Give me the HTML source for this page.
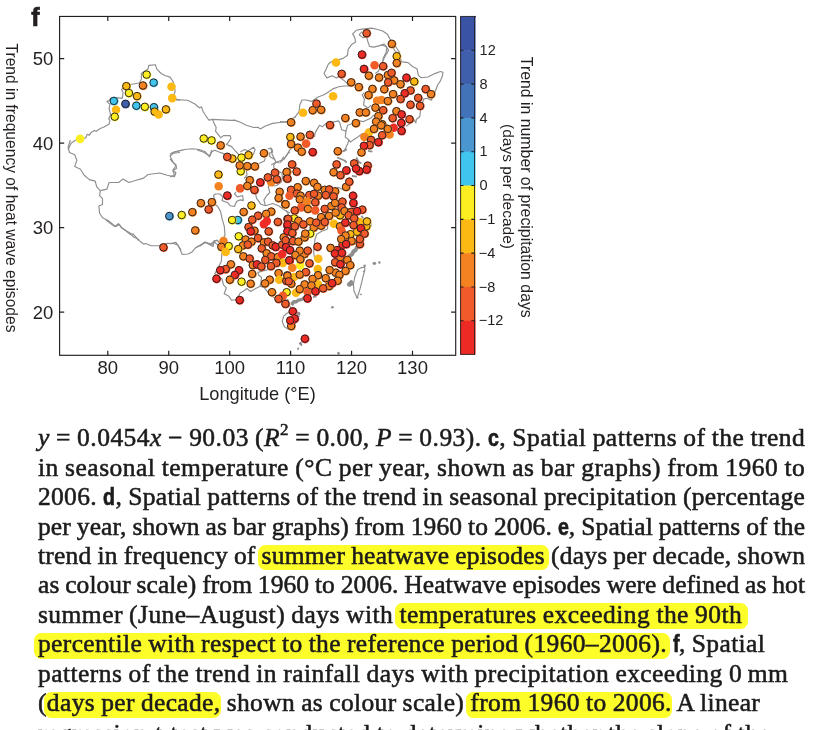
<!DOCTYPE html>
<html><head><meta charset="utf-8"><title>Figure f</title>
<style>
html{background:#fff;}html,body{margin:0;padding:0;}
body{width:818px;height:730px;overflow:hidden;position:relative;z-index:0;font-family:"Liberation Serif",serif;color:#231f20;}
svg{position:absolute;left:0;top:0;}
.at{font-family:"Liberation Sans",sans-serif;font-size:18.5px;fill:#231f20;}
.ct{font-family:"Liberation Sans",sans-serif;font-size:14.5px;fill:#231f20;}
.lb{font-family:"Liberation Sans",sans-serif;font-size:15px;fill:#231f20;}
.ln{-webkit-text-stroke:0.55px #1d1b1c;position:absolute;left:38px;height:30px;line-height:30px;font-size:25.5px;white-space:nowrap;word-spacing:-0.6px;text-align:justify;text-align-last:justify;color:#1d1b1c;}
.ln b{font-family:"Liberation Sans",sans-serif;font-weight:bold;font-size:24.5px;-webkit-text-stroke:0.7px #1d1b1c;display:inline-block;transform:scaleX(0.8);transform-origin:0 50%;margin-right:-2.7px;}
.ln sup{font-size:17px;line-height:0;vertical-align:11.3px;}
mark{background:none;color:inherit;position:relative;}
mark::before{content:'';position:absolute;left:calc(0px - var(--l,4px));right:calc(0px - var(--r,4px));top:3.6px;height:25.8px;background:#fdfd2a;border-radius:7.5px;z-index:-1;}
</style></head><body>
<svg width="818" height="730" viewBox="0 0 818 730">
<text x="31.3" y="26.4" style="font-family:'Liberation Sans',sans-serif;font-weight:bold;font-size:25px;fill:#231f20;stroke:#231f20;stroke-width:0.7px">f</text>
<g fill="none" stroke="#8e8e8e" stroke-width="1.15" stroke-linejoin="round"><path d="M68.1 149.8L71.0 143.2L75.4 140.2L85.7 138.0L87.1 134.4L89.3 135.1L91.5 132.2L94.5 130.4L95.9 131.4L100.3 128.5L104.0 127.0L109.1 124.1L109.9 120.4L108.7 118.9L110.6 114.5L109.1 108.7L109.9 104.3L106.9 101.3L109.1 100.6L110.6 98.4L118.7 97.7L122.3 98.4L123.1 92.5L121.6 89.6L124.5 84.5L130.4 84.5L139.2 83.0L141.4 79.3L141.4 73.5L148.0 69.1L148.8 65.4L155.4 64.7L156.8 69.1L161.2 73.5L165.6 75.7L170.0 77.1L173.0 81.5L175.2 91.1L173.7 95.5L176.6 99.9L180.0 99.9"/><path d="M175.9 99.6L187.6 100.3L194.9 104.0L199.3 107.7L201.5 106.9L203.0 111.3L206.7 117.2L208.9 120.1L212.5 119.4L231.6 120.4L234.5 120.1L240.4 122.3L246.3 125.3L253.6 127.5L258.0 127.2L260.2 128.9L265.4 126.0L272.7 123.4L281.5 122.3L287.4 121.6"/><path d="M212.5 119.4L214.0 123.1L216.2 127.5L215.5 131.1L219.1 135.6L220.6 137.8L223.5 135.6L230.1 135.6L230.9 138.5L227.9 142.9L226.5 144.4L231.6 146.6L235.3 151.0L238.2 153.9L240.4 156.8"/><path d="M170.0 153.9L174.4 151.7L184.7 149.5L192.0 148.8L199.3 149.5L205.2 151.7L209.6 156.8L211.8 151.7L214.7 150.2L218.4 151.7L224.3 153.9"/><path d="M240.4 151.7L244.8 149.5L247.8 151.0L253.6 147.3L255.1 149.5L253.6 153.9L250.7 156.8"/><path d="M267.6 148.8L271.2 148.0L272.0 153.9L274.9 159.8"/><path d="M283.7 159.8L287.4 153.9L290.0 151.7"/><path d="M294.7 117.6L299.1 111.7L299.8 105.1L302.0 100.0L306.4 100.0L311.5 101.4L318.1 97.0L324.0 94.8L328.4 91.9L332.8 88.9L338.7 86.7L344.5 86.0L349.7 86.0L344.5 80.9L338.7 76.5L336.5 77.9L332.1 75.7L326.9 77.9L324.0 73.5L326.2 69.1L328.4 64.0L331.3 61.8L338.7 59.6L343.1 58.4L347.5 55.2L348.2 49.3L351.9 44.2L355.6 42.0L354.8 37.6L352.6 33.9L356.3 30.3L362.2 29.1L371.7 28.1L377.6 29.5L382.7 31.0L387.1 33.9L390.0 39.1L393.7 43.5L397.4 49.3L400.0 53.0"/><path d="M362.2 31.7L359.2 34.7L362.9 37.6L366.6 36.9L368.0 42.0L369.5 46.4L373.9 47.1L382.7 44.9L386.4 47.1L388.6 50.1L384.9 56.7L382.7 61.1L381.2 65.5L378.3 71.3L375.4 73.5"/><path d="M364.4 92.6L362.2 94.8L364.4 99.2L363.6 105.1L368.0 108.0L371.0 105.1"/><path d="M391.9 43.7L394.4 50.3L397.8 53.7L401.9 61.9L408.1 62.6L412.9 66.7L417.0 68.8L418.4 75.6L421.1 77.7L427.9 77.0L434.8 73.6L440.3 71.5L443.0 72.2L442.3 76.3L440.3 81.1L437.5 85.2L435.5 90.7L433.4 96.2L431.4 100.3L427.3 98.2L423.8 98.9L422.5 103.0L420.4 111.2L419.7 116.7L416.3 119.5L415.9 122.9L414.2 120.1L410.1 123.6L406.0 126.3"/><path d="M380.0 45.5L384.1 44.1L386.8 46.8L386.2 52.3L383.4 57.8L382.7 61.9"/><path d="M280.0 121.6L286.6 122.3L291.7 119.4L295.4 116.5"/><path d="M314.5 137.0L315.2 132.6L317.4 128.9L319.6 125.3L322.5 126.7L325.5 123.8L338.7 120.9L340.1 123.8L341.6 129.7L346.0 131.1L347.5 125.3L351.9 123.8L359.2 120.9L363.6 121.6L371.0 117.9L373.9 115.0"/><path d="M346.0 131.1L345.3 137.0L348.9 139.9L350.4 142.1L353.3 139.9L357.8 137.0L362.9 133.3"/><path d="M348.9 139.9L347.5 144.3L344.5 150.2L342.3 151.7"/><path d="M280.0 162.7L283.7 159.0L287.3 154.6L289.5 150.2L291.7 148.0"/><path d="M337.2 186.9L340.1 188.3L343.1 189.8"/><path d="M285.9 210.4L288.8 214.8"/><path d="M170.0 155.9L174.4 152.2L183.2 150.0"/><path d="M170.0 158.8L172.2 161.7L175.9 164.7L176.6 168.3L172.9 170.5L174.4 174.9L170.0 177.1"/><path d="M197.1 150.0L203.7 152.2L209.6 155.9L211.8 150.0"/><path d="M213.3 195.5L215.5 194.0L219.9 194.0L222.8 196.9L222.1 200.6L227.9 202.8L230.1 205.7L234.5 206.5L236.7 201.3L240.4 199.9L243.3 200.6L242.6 195.5L237.5 196.9L234.5 194.0L236.0 191.8"/><path d="M213.3 195.5L214.7 199.1L214.0 203.5L217.7 206.5L220.6 211.6L222.1 218.9L224.3 226.3L225.0 235.1L222.8 239.5"/><path d="M246.3 170.5L247.0 174.9L244.1 178.6"/><path d="M255.1 191.8L256.6 198.4L261.0 204.3L265.4 205.7L272.7 203.5L278.6 205.7L284.4 210.1L290.0 213.1"/><path d="M271.2 164.7L275.6 162.5L281.5 160.3L283.7 156.6"/><path d="M265.4 205.7L263.9 199.9L266.8 195.5L269.8 192.5L268.3 186.7L271.2 183.7"/><path d="M170.0 243.9L175.9 242.4L181.0 249.8"/><path d="M195.7 247.6L205.2 242.4L210.3 243.9L214.0 241.7L218.4 245.4"/><path d="M70.3 140.0L68.1 147.3L69.5 152.5L74.7 154.7L76.9 160.5L74.7 166.4L80.5 169.3L84.2 175.2L89.3 179.6L95.2 181.1L96.7 186.9L100.3 190.6"/><path d="M100.3 190.6L106.9 189.1L109.1 182.5L118.7 182.5L123.1 178.9L128.9 182.5L136.3 180.3L143.6 178.1L148.0 174.5L159.8 173.0L167.1 175.2L174.4 176.7L175.9 173.0L173.0 170.1L175.9 165.7L173.0 162.0L170.0 156.1L173.0 153.2L180.0 152.5"/><path d="M100.3 190.6L99.6 195.7L102.5 198.7L102.5 204.5L98.9 206.0L99.6 213.3L102.5 217.8L108.4 220.7L115.7 226.6L119.4 224.4L121.6 228.0L130.4 233.2L133.3 236.8L139.2 239.8"/><path d="M105.9 220.0L114.7 226.6L118.3 223.7L121.3 227.3L130.8 234.7L133.0 233.9L138.9 240.5L144.0 244.2L145.5 243.5L151.3 245.7L158.7 245.7L167.5 243.2L173.3 243.5L177.8 244.9L180.0 249.3L182.2 254.5L188.0 254.0L191.7 252.3L195.4 247.9L201.2 244.9L204.9 242.0L209.3 244.2L213.0 246.4L214.4 241.3L217.4 240.5L220.0 243.5"/><path d="M200.0 246.0L205.1 242.3L211.7 245.3L213.9 240.9L217.6 240.1"/><path d="M222.0 252.6L221.3 261.4L217.6 268.7L214.7 273.9L222.0 279.0L223.5 284.9L226.4 287.8L224.2 293.7L228.6 295.9L231.5 300.3L236.7 299.5L240.3 292.9L244.0 290.7L246.9 288.5L250.6 291.5L255.7 288.5L260.1 286.3L264.5 287.8L268.9 293.7L274.8 298.1L279.2 301.0L288.0 299.5"/><path d="M260.1 286.3L260.9 281.9L261.6 277.5L258.7 275.3L257.9 272.4L263.1 270.9L268.9 269.5"/><path d="M283.6 316.4L282.2 321.6L284.4 326.7L288.0 328.9L293.9 326.0L297.6 320.1L299.8 313.5L296.8 312.0L291.0 311.3L286.6 313.5L283.6 316.4"/><path d="M288.0 299.5L289.5 305.4L291.0 308.3"/><path d="M314.3 245.2L315.0 239.1L316.8 234.2L321.7 231.2L327.2 229.3L327.8 225.7"/><path d="M314.3 245.2L313.7 251.3L314.3 257.5"/><path d="M370.6 222.0L371.2 226.3"/><path d="M364.7 267.2L361.5 267.6L357.8 269.6L356.0 273.5L354.7 277.5L353.5 283.8L353.9 290.7L355.5 294.5L357.0 297.6L358.6 293.5L359.8 289.7L361.8 281.9L363.7 274.0L364.9 270.0L364.7 267.2"/><path d="M269.7 148.8L272.1 149.3L272.6 152.2L269.7 152.7L269.7 156.6L274.6 159.6L276.0 162.0L279.4 163.0"/><path d="M276.0 162.0L273.6 165.4L274.1 168.4L278.5 171.3L281.9 173.3L282.4 177.2L281.4 182.1L276.5 185.5L272.6 186.0"/><path d="M258.9 163.5L264.3 161.0L265.3 158.1"/><path stroke-width="1.8" d="M343.1 151.4L345.3 150.2L346.7 149.0"/><path stroke-width="1.8" d="M337.2 157.5L340.9 159.0L344.5 160.5L346.7 162.7"/><path stroke-width="1.8" d="M356.3 157.5L358.5 161.9L361.4 163.4"/><path stroke-width="1.8" d="M351.9 175.9L357.0 176.6"/><path stroke-width="1.8" d="M368.0 150.9L372.4 151.7"/><path stroke-width="2.6" d="M291.0 303.9L293.9 301.3L296.8 301.3L300.5 299.3L302.7 299.0L304.4 296.6"/><path stroke-width="1.8" d="M296.8 315.0L299.8 312.8"/><path stroke-width="4" d="M347.3 258.7L350.4 255.3L352.0 254.5L353.5 251.3L355.3 250.4L357.1 247.4L358.3 246.9L360.8 244.6"/><path stroke-width="1.8" d="M361.4 215.9L363.2 218.3"/><path stroke-width="1.8" d="M373.0 264.2L374.2 263.0"/><path stroke-width="1.8" d="M378.9 263.0L379.6 262.8"/><path stroke-width="1.8" d="M364.2 266.0L365.1 266.6"/><path stroke-width="3" d="M291.6 305.2L293.8 302.3L296.0 302.0L298.2 300.1L301.1 299.8L303.3 298.6"/><path stroke-width="1.8" d="M312.9 297.1L316.5 296.4"/><path stroke-width="1.8" d="M297.5 313.3L299.7 312.5"/><path stroke-width="1.8" d="M347.3 284.7L351.0 281.0L352.5 284.7L349.5 285.4L347.3 284.7"/><path stroke-width="1.8" d="M348.8 283.9L351.7 282.5"/><path stroke-width="1.8" d="M356.6 297.3L357.2 297.9"/><path stroke-width="1.8" d="M360.4 293.9L360.7 294.6"/><path stroke-width="1.8" d="M331.7 307.0L332.4 307.6"/><path stroke-width="1.8" d="M299.7 342.6L301.9 345.6"/><path stroke-width="1.8" d="M297.9 348.9L298.5 349.5"/><path stroke-width="1.8" d="M337.8 352.9L339.3 354.4"/><path stroke-width="1.8" d="M363.5 270.7L364.2 271.8"/><circle cx="374.5" cy="263.3" r="1.6" fill="#8e8e8e" stroke="none"/><circle cx="379.4" cy="262.4" r="1.2" fill="#8e8e8e" stroke="none"/><circle cx="332.4" cy="307.3" r="1.3" fill="#8e8e8e" stroke="none"/><circle cx="364.6" cy="265.7" r="1.2" fill="#8e8e8e" stroke="none"/><circle cx="300.5" cy="343.5" r="1.4" fill="#8e8e8e" stroke="none"/><circle cx="298.2" cy="348.5" r="1.0" fill="#8e8e8e" stroke="none"/><circle cx="338.5" cy="353.0" r="1.2" fill="#8e8e8e" stroke="none"/><circle cx="349.5" cy="284.5" r="2.2" fill="#8e8e8e" stroke="none"/><circle cx="351.5" cy="282.0" r="1.8" fill="#8e8e8e" stroke="none"/><circle cx="357.5" cy="297.5" r="1.1" fill="#8e8e8e" stroke="none"/><circle cx="361.0" cy="294.5" r="0.8" fill="#8e8e8e" stroke="none"/></g>
<g stroke="#231f20" stroke-width="0.95"><circle cx="232.6" cy="158.9" r="4.4" fill="#fdb913" stroke="none"/><circle cx="232.3" cy="158.6" r="3.75" fill="none"/><circle cx="368.8" cy="132.6" r="4.3" fill="#fdb913" stroke="none"/><circle cx="364.4" cy="137.0" r="4.3" fill="#f58220" stroke="none"/><circle cx="294.5" cy="218.6" r="4.4" fill="#fcee21" stroke="none"/><circle cx="294.2" cy="218.3" r="3.75" fill="none"/><circle cx="340.3" cy="215.6" r="4.4" fill="#fdb913" stroke="none"/><circle cx="340.0" cy="215.3" r="3.75" fill="none"/><circle cx="359.6" cy="222.0" r="4.3" fill="#fdb913" stroke="none"/><circle cx="314.0" cy="227.8" r="4.4" fill="#f58220" stroke="none"/><circle cx="313.7" cy="227.5" r="3.75" fill="none"/><circle cx="321.4" cy="226.0" r="4.4" fill="#f58220" stroke="none"/><circle cx="321.1" cy="225.7" r="3.75" fill="none"/><circle cx="366.6" cy="226.6" r="4.4" fill="#fdb913" stroke="none"/><circle cx="366.3" cy="226.3" r="3.75" fill="none"/><circle cx="357.4" cy="232.1" r="4.4" fill="#fdb913" stroke="none"/><circle cx="357.1" cy="231.8" r="3.75" fill="none"/><circle cx="310.4" cy="233.9" r="4.4" fill="#fcee21" stroke="none"/><circle cx="310.1" cy="233.6" r="3.75" fill="none"/><circle cx="304.9" cy="237.6" r="4.4" fill="#f58220" stroke="none"/><circle cx="304.6" cy="237.3" r="3.75" fill="none"/><circle cx="350.7" cy="234.5" r="4.4" fill="#fdb913" stroke="none"/><circle cx="350.4" cy="234.2" r="3.75" fill="none"/><circle cx="342.8" cy="244.9" r="4.4" fill="#ee2b24" stroke="none"/><circle cx="342.5" cy="244.6" r="3.75" fill="none"/><circle cx="304.9" cy="254.1" r="4.4" fill="#f58220" stroke="none"/><circle cx="304.6" cy="253.8" r="3.75" fill="none"/><circle cx="337.3" cy="250.4" r="4.4" fill="#ee2b24" stroke="none"/><circle cx="337.0" cy="250.1" r="3.75" fill="none"/><circle cx="340.3" cy="257.8" r="4.4" fill="#f58220" stroke="none"/><circle cx="340.0" cy="257.5" r="3.75" fill="none"/><circle cx="300.3" cy="265.4" r="4.3" fill="#fcee21" stroke="none"/><circle cx="294.2" cy="277.0" r="4.3" fill="#fdb913" stroke="none"/><circle cx="336.0" cy="273.0" r="4.4" fill="#f58220" stroke="none"/><circle cx="335.7" cy="272.7" r="3.75" fill="none"/><circle cx="296.0" cy="292.7" r="4.3" fill="#fdb913" stroke="none"/><circle cx="318.0" cy="284.2" r="4.3" fill="#fdb913" stroke="none"/><circle cx="307.7" cy="292.0" r="4.3" fill="#f15a29" stroke="none"/><circle cx="329.3" cy="286.4" r="4.4" fill="#f58220" stroke="none"/><circle cx="329.0" cy="286.1" r="3.75" fill="none"/><circle cx="146.9" cy="74.9" r="4.4" fill="#fcee21" stroke="none"/><circle cx="146.6" cy="74.6" r="3.75" fill="none"/><circle cx="153.9" cy="82.9" r="4.4" fill="#3fc5ee" stroke="none"/><circle cx="153.6" cy="82.6" r="3.75" fill="none"/><circle cx="143.2" cy="85.8" r="4.4" fill="#f58220" stroke="none"/><circle cx="142.9" cy="85.5" r="3.75" fill="none"/><circle cx="126.6" cy="86.4" r="4.4" fill="#fdb913" stroke="none"/><circle cx="126.3" cy="86.1" r="3.75" fill="none"/><circle cx="129.2" cy="93.3" r="4.4" fill="#fcee21" stroke="none"/><circle cx="128.9" cy="93.0" r="3.75" fill="none"/><circle cx="137.3" cy="96.4" r="4.4" fill="#fdb913" stroke="none"/><circle cx="137.0" cy="96.1" r="3.75" fill="none"/><circle cx="171.5" cy="86.7" r="4.3" fill="#fdb913" stroke="none"/><circle cx="172.2" cy="98.1" r="4.3" fill="#fdb913" stroke="none"/><circle cx="114.1" cy="101.2" r="4.4" fill="#3fc5ee" stroke="none"/><circle cx="113.8" cy="100.9" r="3.75" fill="none"/><circle cx="125.7" cy="104.1" r="4.4" fill="#3f5fac" stroke="none"/><circle cx="125.4" cy="103.8" r="3.75" fill="none"/><circle cx="136.6" cy="106.0" r="4.4" fill="#3fc5ee" stroke="none"/><circle cx="136.3" cy="105.7" r="3.75" fill="none"/><circle cx="145.1" cy="107.1" r="4.4" fill="#fcee21" stroke="none"/><circle cx="144.8" cy="106.8" r="3.75" fill="none"/><circle cx="154.2" cy="107.5" r="4.4" fill="#3fc5ee" stroke="none"/><circle cx="153.9" cy="107.2" r="3.75" fill="none"/><circle cx="166.2" cy="109.7" r="4.4" fill="#fdb913" stroke="none"/><circle cx="165.9" cy="109.4" r="3.75" fill="none"/><circle cx="154.9" cy="111.9" r="4.4" fill="#fdb913" stroke="none"/><circle cx="154.6" cy="111.6" r="3.75" fill="none"/><circle cx="158.6" cy="114.5" r="4.3" fill="#fdb913" stroke="none"/><circle cx="116.0" cy="109.7" r="4.3" fill="#fdb913" stroke="none"/><circle cx="115.0" cy="117.0" r="4.4" fill="#fcee21" stroke="none"/><circle cx="114.7" cy="116.7" r="3.75" fill="none"/><circle cx="80.1" cy="138.9" r="4.3" fill="#fcee21" stroke="none"/><circle cx="204.0" cy="138.8" r="4.4" fill="#fcee21" stroke="none"/><circle cx="203.7" cy="138.5" r="3.75" fill="none"/><circle cx="211.8" cy="140.7" r="4.4" fill="#fcee21" stroke="none"/><circle cx="211.5" cy="140.4" r="3.75" fill="none"/><circle cx="220.9" cy="145.7" r="4.4" fill="#f58220" stroke="none"/><circle cx="220.6" cy="145.4" r="3.75" fill="none"/><circle cx="227.5" cy="157.1" r="4.4" fill="#f15a29" stroke="none"/><circle cx="227.2" cy="156.8" r="3.75" fill="none"/><circle cx="241.7" cy="157.9" r="4.4" fill="#fcee21" stroke="none"/><circle cx="241.4" cy="157.6" r="3.75" fill="none"/><circle cx="248.8" cy="155.4" r="4.4" fill="#fdb913" stroke="none"/><circle cx="248.5" cy="155.1" r="3.75" fill="none"/><circle cx="264.2" cy="153.5" r="4.4" fill="#f58220" stroke="none"/><circle cx="263.9" cy="153.2" r="3.75" fill="none"/><circle cx="366.9" cy="33.5" r="4.4" fill="#f15a29" stroke="none"/><circle cx="366.6" cy="33.2" r="3.75" fill="none"/><circle cx="392.1" cy="44.1" r="4.4" fill="#f58220" stroke="none"/><circle cx="391.8" cy="43.8" r="3.75" fill="none"/><circle cx="362.2" cy="54.8" r="4.4" fill="#ee2b24" stroke="none"/><circle cx="361.9" cy="54.5" r="3.75" fill="none"/><circle cx="336.0" cy="62.5" r="4.3" fill="#fdb913" stroke="none"/><circle cx="374.6" cy="65.2" r="4.3" fill="#f15a29" stroke="none"/><circle cx="383.4" cy="66.5" r="4.4" fill="#f15a29" stroke="none"/><circle cx="383.1" cy="66.2" r="3.75" fill="none"/><circle cx="364.2" cy="69.2" r="4.4" fill="#ee2b24" stroke="none"/><circle cx="363.9" cy="68.9" r="3.75" fill="none"/><circle cx="388.1" cy="75.3" r="4.4" fill="#f58220" stroke="none"/><circle cx="387.8" cy="75.0" r="3.75" fill="none"/><circle cx="391.8" cy="73.1" r="4.4" fill="#f15a29" stroke="none"/><circle cx="391.5" cy="72.8" r="3.75" fill="none"/><circle cx="341.9" cy="74.1" r="4.4" fill="#f15a29" stroke="none"/><circle cx="341.6" cy="73.8" r="3.75" fill="none"/><circle cx="369.1" cy="76.0" r="4.4" fill="#f58220" stroke="none"/><circle cx="368.8" cy="75.7" r="3.75" fill="none"/><circle cx="379.3" cy="77.8" r="4.4" fill="#f58220" stroke="none"/><circle cx="379.0" cy="77.5" r="3.75" fill="none"/><circle cx="394.4" cy="80.7" r="4.4" fill="#f58220" stroke="none"/><circle cx="394.1" cy="80.4" r="3.75" fill="none"/><circle cx="388.4" cy="82.6" r="4.4" fill="#f15a29" stroke="none"/><circle cx="388.1" cy="82.3" r="3.75" fill="none"/><circle cx="351.4" cy="82.6" r="4.4" fill="#f58220" stroke="none"/><circle cx="351.1" cy="82.3" r="3.75" fill="none"/><circle cx="359.1" cy="87.3" r="4.4" fill="#f58220" stroke="none"/><circle cx="358.8" cy="87.0" r="3.75" fill="none"/><circle cx="372.7" cy="89.2" r="4.4" fill="#f58220" stroke="none"/><circle cx="372.4" cy="88.9" r="3.75" fill="none"/><circle cx="384.5" cy="89.5" r="4.4" fill="#f58220" stroke="none"/><circle cx="384.2" cy="89.2" r="3.75" fill="none"/><circle cx="393.3" cy="94.4" r="4.4" fill="#f58220" stroke="none"/><circle cx="393.0" cy="94.1" r="3.75" fill="none"/><circle cx="368.8" cy="95.4" r="4.4" fill="#f58220" stroke="none"/><circle cx="368.5" cy="95.1" r="3.75" fill="none"/><circle cx="333.1" cy="96.3" r="4.3" fill="#fdb913" stroke="none"/><circle cx="377.1" cy="100.7" r="4.3" fill="#f58220" stroke="none"/><circle cx="381.5" cy="100.0" r="4.3" fill="#f58220" stroke="none"/><circle cx="388.1" cy="101.3" r="4.4" fill="#f58220" stroke="none"/><circle cx="387.8" cy="101.0" r="3.75" fill="none"/><circle cx="316.7" cy="103.9" r="4.4" fill="#f15a29" stroke="none"/><circle cx="316.4" cy="103.6" r="3.75" fill="none"/><circle cx="375.7" cy="107.9" r="4.4" fill="#f58220" stroke="none"/><circle cx="375.4" cy="107.6" r="3.75" fill="none"/><circle cx="312.9" cy="110.5" r="4.4" fill="#f58220" stroke="none"/><circle cx="312.6" cy="110.2" r="3.75" fill="none"/><circle cx="321.4" cy="110.1" r="4.4" fill="#f58220" stroke="none"/><circle cx="321.1" cy="109.8" r="3.75" fill="none"/><circle cx="383.4" cy="110.5" r="4.4" fill="#f15a29" stroke="none"/><circle cx="383.1" cy="110.2" r="3.75" fill="none"/><circle cx="303.0" cy="112.7" r="4.3" fill="#fdb913" stroke="none"/><circle cx="360.0" cy="112.7" r="4.4" fill="#f58220" stroke="none"/><circle cx="359.7" cy="112.4" r="3.75" fill="none"/><circle cx="366.1" cy="112.7" r="4.4" fill="#f58220" stroke="none"/><circle cx="365.8" cy="112.4" r="3.75" fill="none"/><circle cx="378.6" cy="116.4" r="4.4" fill="#f58220" stroke="none"/><circle cx="378.3" cy="116.1" r="3.75" fill="none"/><circle cx="345.6" cy="118.3" r="4.4" fill="#f58220" stroke="none"/><circle cx="345.3" cy="118.0" r="3.75" fill="none"/><circle cx="397.0" cy="56.5" r="4.4" fill="#fdb913" stroke="none"/><circle cx="396.7" cy="56.2" r="3.75" fill="none"/><circle cx="397.0" cy="63.3" r="4.4" fill="#f58220" stroke="none"/><circle cx="396.7" cy="63.0" r="3.75" fill="none"/><circle cx="406.7" cy="78.0" r="4.4" fill="#ee2b24" stroke="none"/><circle cx="406.4" cy="77.7" r="3.75" fill="none"/><circle cx="414.5" cy="81.8" r="4.4" fill="#fdb913" stroke="none"/><circle cx="414.2" cy="81.5" r="3.75" fill="none"/><circle cx="400.8" cy="84.5" r="4.4" fill="#f58220" stroke="none"/><circle cx="400.5" cy="84.2" r="3.75" fill="none"/><circle cx="425.9" cy="89.3" r="4.4" fill="#f15a29" stroke="none"/><circle cx="425.6" cy="89.0" r="3.75" fill="none"/><circle cx="410.7" cy="90.7" r="4.4" fill="#f15a29" stroke="none"/><circle cx="410.4" cy="90.4" r="3.75" fill="none"/><circle cx="405.0" cy="93.5" r="4.4" fill="#ee2b24" stroke="none"/><circle cx="404.7" cy="93.2" r="3.75" fill="none"/><circle cx="431.3" cy="94.4" r="4.4" fill="#f58220" stroke="none"/><circle cx="431.0" cy="94.1" r="3.75" fill="none"/><circle cx="418.4" cy="98.1" r="4.4" fill="#f15a29" stroke="none"/><circle cx="418.1" cy="97.8" r="3.75" fill="none"/><circle cx="400.8" cy="99.2" r="4.4" fill="#f15a29" stroke="none"/><circle cx="400.5" cy="98.9" r="3.75" fill="none"/><circle cx="410.7" cy="105.0" r="4.4" fill="#f15a29" stroke="none"/><circle cx="410.4" cy="104.7" r="3.75" fill="none"/><circle cx="420.3" cy="106.1" r="4.4" fill="#f15a29" stroke="none"/><circle cx="420.0" cy="105.8" r="3.75" fill="none"/><circle cx="396.7" cy="111.5" r="4.4" fill="#f58220" stroke="none"/><circle cx="396.4" cy="111.2" r="3.75" fill="none"/><circle cx="401.8" cy="114.7" r="4.4" fill="#ee2b24" stroke="none"/><circle cx="401.5" cy="114.4" r="3.75" fill="none"/><circle cx="392.9" cy="118.4" r="4.4" fill="#f15a29" stroke="none"/><circle cx="392.6" cy="118.1" r="3.75" fill="none"/><circle cx="409.8" cy="119.5" r="4.4" fill="#f15a29" stroke="none"/><circle cx="409.5" cy="119.2" r="3.75" fill="none"/><circle cx="401.5" cy="123.2" r="4.4" fill="#ee2b24" stroke="none"/><circle cx="401.2" cy="122.9" r="3.75" fill="none"/><circle cx="382.4" cy="124.5" r="4.4" fill="#f58220" stroke="none"/><circle cx="382.1" cy="124.2" r="3.75" fill="none"/><circle cx="387.8" cy="129.3" r="4.4" fill="#f58220" stroke="none"/><circle cx="387.5" cy="129.0" r="3.75" fill="none"/><circle cx="393.7" cy="127.7" r="4.3" fill="#ee2b24" stroke="none"/><circle cx="401.8" cy="131.1" r="4.4" fill="#ee2b24" stroke="none"/><circle cx="401.5" cy="130.8" r="3.75" fill="none"/><circle cx="389.6" cy="134.5" r="4.3" fill="#f58220" stroke="none"/><circle cx="382.4" cy="135.5" r="4.4" fill="#f15a29" stroke="none"/><circle cx="382.1" cy="135.2" r="3.75" fill="none"/><circle cx="291.3" cy="122.6" r="4.4" fill="#f58220" stroke="none"/><circle cx="291.0" cy="122.3" r="3.75" fill="none"/><circle cx="330.2" cy="125.3" r="4.4" fill="#f15a29" stroke="none"/><circle cx="329.9" cy="125.0" r="3.75" fill="none"/><circle cx="356.1" cy="123.4" r="4.4" fill="#f58220" stroke="none"/><circle cx="355.8" cy="123.1" r="3.75" fill="none"/><circle cx="376.4" cy="121.9" r="4.4" fill="#f58220" stroke="none"/><circle cx="376.1" cy="121.6" r="3.75" fill="none"/><circle cx="381.5" cy="125.6" r="4.4" fill="#f58220" stroke="none"/><circle cx="381.2" cy="125.3" r="3.75" fill="none"/><circle cx="374.2" cy="129.2" r="4.4" fill="#f58220" stroke="none"/><circle cx="373.9" cy="128.9" r="3.75" fill="none"/><circle cx="388.1" cy="129.2" r="4.4" fill="#f58220" stroke="none"/><circle cx="387.8" cy="128.9" r="3.75" fill="none"/><circle cx="290.6" cy="137.3" r="4.4" fill="#fdb913" stroke="none"/><circle cx="290.3" cy="137.0" r="3.75" fill="none"/><circle cx="300.8" cy="136.9" r="4.4" fill="#f58220" stroke="none"/><circle cx="300.5" cy="136.6" r="3.75" fill="none"/><circle cx="310.1" cy="135.1" r="4.4" fill="#f15a29" stroke="none"/><circle cx="309.8" cy="134.8" r="3.75" fill="none"/><circle cx="306.1" cy="143.6" r="4.3" fill="#f15a29" stroke="none"/><circle cx="291.3" cy="144.3" r="4.4" fill="#f58220" stroke="none"/><circle cx="291.0" cy="144.0" r="3.75" fill="none"/><circle cx="298.2" cy="147.9" r="4.4" fill="#f58220" stroke="none"/><circle cx="297.9" cy="147.6" r="3.75" fill="none"/><circle cx="302.0" cy="152.0" r="4.4" fill="#f58220" stroke="none"/><circle cx="301.7" cy="151.7" r="3.75" fill="none"/><circle cx="312.9" cy="152.3" r="4.4" fill="#ee2b24" stroke="none"/><circle cx="312.6" cy="152.0" r="3.75" fill="none"/><circle cx="371.3" cy="140.2" r="4.4" fill="#f15a29" stroke="none"/><circle cx="371.0" cy="139.9" r="3.75" fill="none"/><circle cx="378.6" cy="142.4" r="4.4" fill="#ee2b24" stroke="none"/><circle cx="378.3" cy="142.1" r="3.75" fill="none"/><circle cx="369.8" cy="145.4" r="4.4" fill="#f15a29" stroke="none"/><circle cx="369.5" cy="145.1" r="3.75" fill="none"/><circle cx="364.2" cy="146.1" r="4.4" fill="#ee2b24" stroke="none"/><circle cx="363.9" cy="145.8" r="3.75" fill="none"/><circle cx="361.7" cy="152.7" r="4.4" fill="#f58220" stroke="none"/><circle cx="361.4" cy="152.4" r="3.75" fill="none"/><circle cx="338.0" cy="151.5" r="4.4" fill="#f58220" stroke="none"/><circle cx="337.7" cy="151.2" r="3.75" fill="none"/><circle cx="336.8" cy="164.7" r="4.4" fill="#f15a29" stroke="none"/><circle cx="336.5" cy="164.4" r="3.75" fill="none"/><circle cx="354.4" cy="163.7" r="4.4" fill="#f15a29" stroke="none"/><circle cx="354.1" cy="163.4" r="3.75" fill="none"/><circle cx="367.9" cy="165.9" r="4.4" fill="#f15a29" stroke="none"/><circle cx="367.6" cy="165.6" r="3.75" fill="none"/><circle cx="346.6" cy="170.6" r="4.4" fill="#ee2b24" stroke="none"/><circle cx="346.3" cy="170.3" r="3.75" fill="none"/><circle cx="359.5" cy="171.3" r="4.4" fill="#ee2b24" stroke="none"/><circle cx="359.2" cy="171.0" r="3.75" fill="none"/><circle cx="356.3" cy="168.8" r="4.4" fill="#ee2b24" stroke="none"/><circle cx="356.0" cy="168.5" r="3.75" fill="none"/><circle cx="366.9" cy="169.9" r="4.4" fill="#ee2b24" stroke="none"/><circle cx="366.6" cy="169.6" r="3.75" fill="none"/><circle cx="333.8" cy="172.5" r="4.4" fill="#f58220" stroke="none"/><circle cx="333.5" cy="172.2" r="3.75" fill="none"/><circle cx="340.7" cy="175.4" r="4.4" fill="#f15a29" stroke="none"/><circle cx="340.4" cy="175.1" r="3.75" fill="none"/><circle cx="346.3" cy="187.2" r="4.4" fill="#f58220" stroke="none"/><circle cx="346.0" cy="186.9" r="3.75" fill="none"/><circle cx="349.5" cy="182.0" r="4.4" fill="#f15a29" stroke="none"/><circle cx="349.2" cy="181.7" r="3.75" fill="none"/><circle cx="292.3" cy="164.7" r="4.4" fill="#f15a29" stroke="none"/><circle cx="292.0" cy="164.4" r="3.75" fill="none"/><circle cx="296.9" cy="171.8" r="4.4" fill="#f15a29" stroke="none"/><circle cx="296.6" cy="171.5" r="3.75" fill="none"/><circle cx="287.2" cy="172.2" r="4.4" fill="#f58220" stroke="none"/><circle cx="286.9" cy="171.9" r="3.75" fill="none"/><circle cx="287.2" cy="178.7" r="4.4" fill="#f15a29" stroke="none"/><circle cx="286.9" cy="178.4" r="3.75" fill="none"/><circle cx="306.0" cy="181.3" r="4.4" fill="#f58220" stroke="none"/><circle cx="305.7" cy="181.0" r="3.75" fill="none"/><circle cx="314.3" cy="183.1" r="4.4" fill="#f58220" stroke="none"/><circle cx="314.0" cy="182.8" r="3.75" fill="none"/><circle cx="317.7" cy="187.2" r="4.4" fill="#f58220" stroke="none"/><circle cx="317.4" cy="186.9" r="3.75" fill="none"/><circle cx="297.9" cy="187.5" r="4.4" fill="#f58220" stroke="none"/><circle cx="297.6" cy="187.2" r="3.75" fill="none"/><circle cx="291.3" cy="190.1" r="4.4" fill="#f15a29" stroke="none"/><circle cx="291.0" cy="189.8" r="3.75" fill="none"/><circle cx="297.2" cy="193.8" r="4.4" fill="#f15a29" stroke="none"/><circle cx="296.9" cy="193.5" r="3.75" fill="none"/><circle cx="289.5" cy="195.7" r="4.3" fill="#f15a29" stroke="none"/><circle cx="300.8" cy="196.0" r="4.4" fill="#f58220" stroke="none"/><circle cx="300.5" cy="195.7" r="3.75" fill="none"/><circle cx="300.1" cy="199.7" r="4.4" fill="#f58220" stroke="none"/><circle cx="299.8" cy="199.4" r="3.75" fill="none"/><circle cx="309.6" cy="195.3" r="4.4" fill="#f15a29" stroke="none"/><circle cx="309.3" cy="195.0" r="3.75" fill="none"/><circle cx="318.4" cy="196.0" r="4.4" fill="#f58220" stroke="none"/><circle cx="318.1" cy="195.7" r="3.75" fill="none"/><circle cx="314.3" cy="194.1" r="4.4" fill="#f15a29" stroke="none"/><circle cx="314.0" cy="193.8" r="3.75" fill="none"/><circle cx="325.0" cy="190.1" r="4.4" fill="#f58220" stroke="none"/><circle cx="324.7" cy="189.8" r="3.75" fill="none"/><circle cx="335.3" cy="191.6" r="4.4" fill="#f58220" stroke="none"/><circle cx="335.0" cy="191.3" r="3.75" fill="none"/><circle cx="329.4" cy="189.7" r="4.4" fill="#f15a29" stroke="none"/><circle cx="329.1" cy="189.4" r="3.75" fill="none"/><circle cx="326.1" cy="195.3" r="4.4" fill="#f15a29" stroke="none"/><circle cx="325.8" cy="195.0" r="3.75" fill="none"/><circle cx="333.8" cy="196.7" r="4.4" fill="#f15a29" stroke="none"/><circle cx="333.5" cy="196.4" r="3.75" fill="none"/><circle cx="307.1" cy="201.6" r="4.3" fill="#f58220" stroke="none"/><circle cx="315.5" cy="202.6" r="4.4" fill="#f15a29" stroke="none"/><circle cx="315.2" cy="202.3" r="3.75" fill="none"/><circle cx="285.4" cy="204.3" r="4.4" fill="#f58220" stroke="none"/><circle cx="285.1" cy="204.0" r="3.75" fill="none"/><circle cx="301.3" cy="207.4" r="4.3" fill="#f15a29" stroke="none"/><circle cx="295.0" cy="210.7" r="4.4" fill="#f15a29" stroke="none"/><circle cx="294.7" cy="210.4" r="3.75" fill="none"/><circle cx="308.2" cy="209.2" r="4.4" fill="#f58220" stroke="none"/><circle cx="307.9" cy="208.9" r="3.75" fill="none"/><circle cx="315.2" cy="210.4" r="4.3" fill="#f15a29" stroke="none"/><circle cx="325.0" cy="209.2" r="4.4" fill="#f15a29" stroke="none"/><circle cx="324.7" cy="208.9" r="3.75" fill="none"/><circle cx="331.6" cy="206.3" r="4.4" fill="#f58220" stroke="none"/><circle cx="331.3" cy="206.0" r="3.75" fill="none"/><circle cx="335.3" cy="203.3" r="4.4" fill="#f58220" stroke="none"/><circle cx="335.0" cy="203.0" r="3.75" fill="none"/><circle cx="342.6" cy="201.9" r="4.4" fill="#f15a29" stroke="none"/><circle cx="342.3" cy="201.6" r="3.75" fill="none"/><circle cx="341.9" cy="207.7" r="4.4" fill="#f15a29" stroke="none"/><circle cx="341.6" cy="207.4" r="3.75" fill="none"/><circle cx="336.0" cy="212.9" r="4.4" fill="#f58220" stroke="none"/><circle cx="335.7" cy="212.6" r="3.75" fill="none"/><circle cx="344.8" cy="211.4" r="4.4" fill="#f58220" stroke="none"/><circle cx="344.5" cy="211.1" r="3.75" fill="none"/><circle cx="351.4" cy="212.1" r="4.4" fill="#f15a29" stroke="none"/><circle cx="351.1" cy="211.8" r="3.75" fill="none"/><circle cx="353.2" cy="196.0" r="4.4" fill="#ee2b24" stroke="none"/><circle cx="352.9" cy="195.7" r="3.75" fill="none"/><circle cx="353.6" cy="203.3" r="4.4" fill="#ee2b24" stroke="none"/><circle cx="353.3" cy="203.0" r="3.75" fill="none"/><circle cx="362.5" cy="209.9" r="4.4" fill="#f15a29" stroke="none"/><circle cx="362.2" cy="209.6" r="3.75" fill="none"/><circle cx="357.3" cy="211.4" r="4.4" fill="#ee2b24" stroke="none"/><circle cx="357.0" cy="211.1" r="3.75" fill="none"/><circle cx="241.0" cy="171.6" r="4.4" fill="#fcee21" stroke="none"/><circle cx="240.7" cy="171.3" r="3.75" fill="none"/><circle cx="240.0" cy="165.7" r="4.4" fill="#f58220" stroke="none"/><circle cx="239.7" cy="165.4" r="3.75" fill="none"/><circle cx="247.6" cy="166.4" r="4.4" fill="#f58220" stroke="none"/><circle cx="247.3" cy="166.1" r="3.75" fill="none"/><circle cx="255.1" cy="166.7" r="4.4" fill="#f58220" stroke="none"/><circle cx="254.8" cy="166.4" r="3.75" fill="none"/><circle cx="218.7" cy="174.8" r="4.4" fill="#fdb913" stroke="none"/><circle cx="218.4" cy="174.5" r="3.75" fill="none"/><circle cx="218.7" cy="186.2" r="4.3" fill="#f58220" stroke="none"/><circle cx="240.1" cy="188.4" r="4.3" fill="#f15a29" stroke="none"/><circle cx="250.0" cy="180.4" r="4.4" fill="#f58220" stroke="none"/><circle cx="249.7" cy="180.1" r="3.75" fill="none"/><circle cx="247.6" cy="186.2" r="4.4" fill="#f58220" stroke="none"/><circle cx="247.3" cy="185.9" r="3.75" fill="none"/><circle cx="254.7" cy="190.2" r="4.4" fill="#f15a29" stroke="none"/><circle cx="254.4" cy="189.9" r="3.75" fill="none"/><circle cx="260.5" cy="182.6" r="4.4" fill="#ee2b24" stroke="none"/><circle cx="260.2" cy="182.3" r="3.75" fill="none"/><circle cx="271.2" cy="182.3" r="4.3" fill="#f58220" stroke="none"/><circle cx="268.1" cy="177.7" r="4.4" fill="#f15a29" stroke="none"/><circle cx="267.8" cy="177.4" r="3.75" fill="none"/><circle cx="275.2" cy="173.0" r="4.4" fill="#f15a29" stroke="none"/><circle cx="274.9" cy="172.7" r="3.75" fill="none"/><circle cx="277.1" cy="179.6" r="4.4" fill="#f15a29" stroke="none"/><circle cx="276.8" cy="179.3" r="3.75" fill="none"/><circle cx="286.9" cy="172.3" r="4.4" fill="#f58220" stroke="none"/><circle cx="286.6" cy="172.0" r="3.75" fill="none"/><circle cx="287.7" cy="178.9" r="4.4" fill="#f15a29" stroke="none"/><circle cx="287.4" cy="178.6" r="3.75" fill="none"/><circle cx="279.9" cy="192.1" r="4.4" fill="#f58220" stroke="none"/><circle cx="279.6" cy="191.8" r="3.75" fill="none"/><circle cx="278.9" cy="198.3" r="4.4" fill="#f58220" stroke="none"/><circle cx="278.6" cy="198.0" r="3.75" fill="none"/><circle cx="285.8" cy="204.6" r="4.4" fill="#f58220" stroke="none"/><circle cx="285.5" cy="204.3" r="3.75" fill="none"/><circle cx="227.5" cy="195.8" r="4.4" fill="#ee2b24" stroke="none"/><circle cx="227.2" cy="195.5" r="3.75" fill="none"/><circle cx="251.7" cy="205.8" r="4.4" fill="#fdb913" stroke="none"/><circle cx="251.4" cy="205.5" r="3.75" fill="none"/><circle cx="201.1" cy="203.4" r="4.4" fill="#f58220" stroke="none"/><circle cx="200.8" cy="203.1" r="3.75" fill="none"/><circle cx="212.1" cy="202.4" r="4.4" fill="#f58220" stroke="none"/><circle cx="211.8" cy="202.1" r="3.75" fill="none"/><circle cx="208.9" cy="209.7" r="4.4" fill="#f15a29" stroke="none"/><circle cx="208.6" cy="209.4" r="3.75" fill="none"/><circle cx="192.6" cy="212.4" r="4.4" fill="#f58220" stroke="none"/><circle cx="192.3" cy="212.1" r="3.75" fill="none"/><circle cx="182.0" cy="215.3" r="4.4" fill="#fcee21" stroke="none"/><circle cx="181.7" cy="215.0" r="3.75" fill="none"/><circle cx="243.9" cy="212.2" r="4.4" fill="#f58220" stroke="none"/><circle cx="243.6" cy="211.9" r="3.75" fill="none"/><circle cx="238.1" cy="220.3" r="4.4" fill="#3fc5ee" stroke="none"/><circle cx="237.8" cy="220.0" r="3.75" fill="none"/><circle cx="232.4" cy="220.3" r="4.4" fill="#fcee21" stroke="none"/><circle cx="232.1" cy="220.0" r="3.75" fill="none"/><circle cx="195.5" cy="230.7" r="4.4" fill="#f58220" stroke="none"/><circle cx="195.2" cy="230.4" r="3.75" fill="none"/><circle cx="271.5" cy="211.9" r="4.4" fill="#f58220" stroke="none"/><circle cx="271.2" cy="211.6" r="3.75" fill="none"/><circle cx="266.4" cy="214.1" r="4.4" fill="#f58220" stroke="none"/><circle cx="266.1" cy="213.8" r="3.75" fill="none"/><circle cx="258.3" cy="216.0" r="4.4" fill="#f15a29" stroke="none"/><circle cx="258.0" cy="215.7" r="3.75" fill="none"/><circle cx="252.5" cy="220.0" r="4.4" fill="#f15a29" stroke="none"/><circle cx="252.2" cy="219.7" r="3.75" fill="none"/><circle cx="263.9" cy="224.1" r="4.3" fill="#ee2b24" stroke="none"/><circle cx="266.8" cy="221.1" r="4.3" fill="#ee2b24" stroke="none"/><circle cx="278.1" cy="222.2" r="4.4" fill="#f15a29" stroke="none"/><circle cx="277.8" cy="221.9" r="3.75" fill="none"/><circle cx="287.7" cy="219.2" r="4.4" fill="#f15a29" stroke="none"/><circle cx="287.4" cy="218.9" r="3.75" fill="none"/><circle cx="287.7" cy="225.9" r="4.4" fill="#ee2b24" stroke="none"/><circle cx="287.4" cy="225.6" r="3.75" fill="none"/><circle cx="248.8" cy="227.3" r="4.4" fill="#f15a29" stroke="none"/><circle cx="248.5" cy="227.0" r="3.75" fill="none"/><circle cx="254.7" cy="231.0" r="4.4" fill="#f58220" stroke="none"/><circle cx="254.4" cy="230.7" r="3.75" fill="none"/><circle cx="251.0" cy="231.7" r="4.4" fill="#ee2b24" stroke="none"/><circle cx="250.7" cy="231.4" r="3.75" fill="none"/><circle cx="268.9" cy="231.7" r="4.4" fill="#f15a29" stroke="none"/><circle cx="268.6" cy="231.4" r="3.75" fill="none"/><circle cx="289.1" cy="231.7" r="4.4" fill="#ee2b24" stroke="none"/><circle cx="288.8" cy="231.4" r="3.75" fill="none"/><circle cx="284.0" cy="237.6" r="4.4" fill="#f58220" stroke="none"/><circle cx="283.7" cy="237.3" r="3.75" fill="none"/><circle cx="239.0" cy="236.6" r="4.4" fill="#fcee21" stroke="none"/><circle cx="238.7" cy="236.3" r="3.75" fill="none"/><circle cx="245.9" cy="239.8" r="4.4" fill="#f58220" stroke="none"/><circle cx="245.6" cy="239.5" r="3.75" fill="none"/><circle cx="251.7" cy="242.0" r="4.4" fill="#f58220" stroke="none"/><circle cx="251.4" cy="241.7" r="3.75" fill="none"/><circle cx="258.3" cy="238.3" r="4.4" fill="#f15a29" stroke="none"/><circle cx="258.0" cy="238.0" r="3.75" fill="none"/><circle cx="264.2" cy="242.7" r="4.4" fill="#f58220" stroke="none"/><circle cx="263.9" cy="242.4" r="3.75" fill="none"/><circle cx="268.3" cy="242.0" r="4.4" fill="#f15a29" stroke="none"/><circle cx="268.0" cy="241.7" r="3.75" fill="none"/><circle cx="223.5" cy="241.0" r="4.3" fill="#f58220" stroke="none"/><circle cx="229.0" cy="246.4" r="4.4" fill="#fcee21" stroke="none"/><circle cx="228.7" cy="246.1" r="3.75" fill="none"/><circle cx="221.6" cy="247.1" r="4.4" fill="#f58220" stroke="none"/><circle cx="221.3" cy="246.8" r="3.75" fill="none"/><circle cx="243.2" cy="245.7" r="4.4" fill="#f58220" stroke="none"/><circle cx="242.9" cy="245.4" r="3.75" fill="none"/><circle cx="248.1" cy="244.9" r="4.4" fill="#f15a29" stroke="none"/><circle cx="247.8" cy="244.6" r="3.75" fill="none"/><circle cx="238.5" cy="249.3" r="4.4" fill="#fdb913" stroke="none"/><circle cx="238.2" cy="249.0" r="3.75" fill="none"/><circle cx="273.0" cy="245.7" r="4.4" fill="#f15a29" stroke="none"/><circle cx="272.7" cy="245.4" r="3.75" fill="none"/><circle cx="275.9" cy="247.1" r="4.4" fill="#ee2b24" stroke="none"/><circle cx="275.6" cy="246.8" r="3.75" fill="none"/><circle cx="282.5" cy="244.9" r="4.4" fill="#f15a29" stroke="none"/><circle cx="282.2" cy="244.6" r="3.75" fill="none"/><circle cx="286.2" cy="247.1" r="4.4" fill="#ee2b24" stroke="none"/><circle cx="285.9" cy="246.8" r="3.75" fill="none"/><circle cx="262.0" cy="248.6" r="4.4" fill="#f15a29" stroke="none"/><circle cx="261.7" cy="248.3" r="3.75" fill="none"/><circle cx="169.6" cy="216.3" r="4.4" fill="#4a96d1" stroke="none"/><circle cx="169.3" cy="216.0" r="3.75" fill="none"/><circle cx="163.7" cy="247.6" r="4.4" fill="#f15a29" stroke="none"/><circle cx="163.4" cy="247.3" r="3.75" fill="none"/><circle cx="225.7" cy="251.9" r="4.3" fill="#fdb913" stroke="none"/><circle cx="243.6" cy="256.6" r="4.4" fill="#f58220" stroke="none"/><circle cx="243.3" cy="256.3" r="3.75" fill="none"/><circle cx="249.9" cy="258.8" r="4.4" fill="#f15a29" stroke="none"/><circle cx="249.6" cy="258.5" r="3.75" fill="none"/><circle cx="267.0" cy="253.6" r="4.4" fill="#f58220" stroke="none"/><circle cx="266.7" cy="253.3" r="3.75" fill="none"/><circle cx="271.4" cy="256.6" r="4.4" fill="#f15a29" stroke="none"/><circle cx="271.1" cy="256.3" r="3.75" fill="none"/><circle cx="265.6" cy="260.2" r="4.4" fill="#f15a29" stroke="none"/><circle cx="265.3" cy="259.9" r="3.75" fill="none"/><circle cx="278.1" cy="257.3" r="4.4" fill="#f58220" stroke="none"/><circle cx="277.8" cy="257.0" r="3.75" fill="none"/><circle cx="282.2" cy="254.1" r="4.3" fill="#ee2b24" stroke="none"/><circle cx="282.9" cy="262.9" r="4.3" fill="#fdb913" stroke="none"/><circle cx="289.8" cy="260.5" r="4.4" fill="#ee2b24" stroke="none"/><circle cx="289.5" cy="260.2" r="3.75" fill="none"/><circle cx="276.6" cy="263.2" r="4.4" fill="#f15a29" stroke="none"/><circle cx="276.3" cy="262.9" r="3.75" fill="none"/><circle cx="271.2" cy="266.4" r="4.4" fill="#f15a29" stroke="none"/><circle cx="270.9" cy="266.1" r="3.75" fill="none"/><circle cx="253.1" cy="265.4" r="4.4" fill="#f58220" stroke="none"/><circle cx="252.8" cy="265.1" r="3.75" fill="none"/><circle cx="257.2" cy="264.6" r="4.4" fill="#ee2b24" stroke="none"/><circle cx="256.9" cy="264.3" r="3.75" fill="none"/><circle cx="261.6" cy="266.8" r="4.4" fill="#f15a29" stroke="none"/><circle cx="261.3" cy="266.5" r="3.75" fill="none"/><circle cx="231.1" cy="264.6" r="4.4" fill="#f58220" stroke="none"/><circle cx="230.8" cy="264.3" r="3.75" fill="none"/><circle cx="226.0" cy="269.3" r="4.4" fill="#f15a29" stroke="none"/><circle cx="225.7" cy="269.0" r="3.75" fill="none"/><circle cx="220.5" cy="270.5" r="4.4" fill="#ee2b24" stroke="none"/><circle cx="220.2" cy="270.2" r="3.75" fill="none"/><circle cx="239.2" cy="270.5" r="4.4" fill="#ee2b24" stroke="none"/><circle cx="238.9" cy="270.2" r="3.75" fill="none"/><circle cx="235.1" cy="275.2" r="4.4" fill="#ee2b24" stroke="none"/><circle cx="234.8" cy="274.9" r="3.75" fill="none"/><circle cx="216.7" cy="279.0" r="4.4" fill="#ee2b24" stroke="none"/><circle cx="216.4" cy="278.7" r="3.75" fill="none"/><circle cx="230.1" cy="280.0" r="4.4" fill="#f58220" stroke="none"/><circle cx="229.8" cy="279.7" r="3.75" fill="none"/><circle cx="241.8" cy="282.0" r="4.4" fill="#fcee21" stroke="none"/><circle cx="241.5" cy="281.7" r="3.75" fill="none"/><circle cx="250.9" cy="284.0" r="4.4" fill="#f58220" stroke="none"/><circle cx="250.6" cy="283.7" r="3.75" fill="none"/><circle cx="252.4" cy="274.2" r="4.4" fill="#f58220" stroke="none"/><circle cx="252.1" cy="273.9" r="3.75" fill="none"/><circle cx="278.8" cy="273.4" r="4.4" fill="#f58220" stroke="none"/><circle cx="278.5" cy="273.1" r="3.75" fill="none"/><circle cx="287.6" cy="275.6" r="4.4" fill="#f58220" stroke="none"/><circle cx="287.3" cy="275.3" r="3.75" fill="none"/><circle cx="270.0" cy="280.0" r="4.4" fill="#f58220" stroke="none"/><circle cx="269.7" cy="279.7" r="3.75" fill="none"/><circle cx="265.3" cy="283.7" r="4.4" fill="#f58220" stroke="none"/><circle cx="265.0" cy="283.4" r="3.75" fill="none"/><circle cx="279.2" cy="279.7" r="4.3" fill="#fdb913" stroke="none"/><circle cx="286.6" cy="281.1" r="4.4" fill="#f15a29" stroke="none"/><circle cx="286.3" cy="280.8" r="3.75" fill="none"/><circle cx="291.5" cy="284.0" r="4.4" fill="#f58220" stroke="none"/><circle cx="291.2" cy="283.7" r="3.75" fill="none"/><circle cx="272.2" cy="292.5" r="4.4" fill="#f58220" stroke="none"/><circle cx="271.9" cy="292.2" r="3.75" fill="none"/><circle cx="286.9" cy="292.5" r="4.4" fill="#fcee21" stroke="none"/><circle cx="286.6" cy="292.2" r="3.75" fill="none"/><circle cx="239.9" cy="300.3" r="4.4" fill="#ee2b24" stroke="none"/><circle cx="239.6" cy="300.0" r="3.75" fill="none"/><circle cx="282.9" cy="295.9" r="4.3" fill="#f15a29" stroke="none"/><circle cx="278.8" cy="299.1" r="4.4" fill="#f15a29" stroke="none"/><circle cx="278.5" cy="298.8" r="3.75" fill="none"/><circle cx="285.7" cy="304.2" r="4.4" fill="#f15a29" stroke="none"/><circle cx="285.4" cy="303.9" r="3.75" fill="none"/><circle cx="291.5" cy="326.3" r="4.4" fill="#f58220" stroke="none"/><circle cx="291.2" cy="326.0" r="3.75" fill="none"/><circle cx="294.9" cy="318.9" r="4.4" fill="#ee2b24" stroke="none"/><circle cx="294.6" cy="318.6" r="3.75" fill="none"/><circle cx="293.0" cy="311.6" r="4.4" fill="#ee2b24" stroke="none"/><circle cx="292.7" cy="311.3" r="3.75" fill="none"/><circle cx="290.5" cy="320.7" r="4.4" fill="#ee2b24" stroke="none"/><circle cx="290.2" cy="320.4" r="3.75" fill="none"/><circle cx="288.4" cy="219.2" r="4.4" fill="#f15a29" stroke="none"/><circle cx="288.1" cy="218.9" r="3.75" fill="none"/><circle cx="298.7" cy="221.1" r="4.4" fill="#f58220" stroke="none"/><circle cx="298.4" cy="220.8" r="3.75" fill="none"/><circle cx="321.4" cy="217.4" r="4.4" fill="#f58220" stroke="none"/><circle cx="321.1" cy="217.1" r="3.75" fill="none"/><circle cx="329.3" cy="216.2" r="4.4" fill="#f58220" stroke="none"/><circle cx="329.0" cy="215.9" r="3.75" fill="none"/><circle cx="348.9" cy="215.6" r="4.4" fill="#f15a29" stroke="none"/><circle cx="348.6" cy="215.3" r="3.75" fill="none"/><circle cx="354.4" cy="218.6" r="4.4" fill="#f15a29" stroke="none"/><circle cx="354.1" cy="218.3" r="3.75" fill="none"/><circle cx="367.2" cy="221.7" r="4.4" fill="#fdb913" stroke="none"/><circle cx="366.9" cy="221.4" r="3.75" fill="none"/><circle cx="287.7" cy="224.7" r="4.4" fill="#ee2b24" stroke="none"/><circle cx="287.4" cy="224.4" r="3.75" fill="none"/><circle cx="295.1" cy="226.6" r="4.4" fill="#f15a29" stroke="none"/><circle cx="294.8" cy="226.3" r="3.75" fill="none"/><circle cx="303.6" cy="224.7" r="4.4" fill="#f15a29" stroke="none"/><circle cx="303.3" cy="224.4" r="3.75" fill="none"/><circle cx="310.4" cy="221.7" r="4.4" fill="#f58220" stroke="none"/><circle cx="310.1" cy="221.4" r="3.75" fill="none"/><circle cx="316.5" cy="222.9" r="4.4" fill="#f15a29" stroke="none"/><circle cx="316.2" cy="222.6" r="3.75" fill="none"/><circle cx="325.0" cy="222.3" r="4.4" fill="#f15a29" stroke="none"/><circle cx="324.7" cy="222.0" r="3.75" fill="none"/><circle cx="333.9" cy="223.8" r="4.3" fill="#fdb913" stroke="none"/><circle cx="340.3" cy="226.6" r="4.4" fill="#f58220" stroke="none"/><circle cx="340.0" cy="226.3" r="3.75" fill="none"/><circle cx="345.6" cy="222.9" r="4.4" fill="#ee2b24" stroke="none"/><circle cx="345.3" cy="222.6" r="3.75" fill="none"/><circle cx="341.5" cy="230.6" r="4.3" fill="#f15a29" stroke="none"/><circle cx="353.8" cy="225.4" r="4.4" fill="#f15a29" stroke="none"/><circle cx="353.5" cy="225.1" r="3.75" fill="none"/><circle cx="361.1" cy="228.4" r="4.4" fill="#ee2b24" stroke="none"/><circle cx="360.8" cy="228.1" r="3.75" fill="none"/><circle cx="364.8" cy="233.9" r="4.4" fill="#f15a29" stroke="none"/><circle cx="364.5" cy="233.6" r="3.75" fill="none"/><circle cx="287.7" cy="231.5" r="4.4" fill="#ee2b24" stroke="none"/><circle cx="287.4" cy="231.2" r="3.75" fill="none"/><circle cx="292.6" cy="233.3" r="4.4" fill="#f15a29" stroke="none"/><circle cx="292.3" cy="233.0" r="3.75" fill="none"/><circle cx="305.5" cy="233.9" r="4.4" fill="#f58220" stroke="none"/><circle cx="305.2" cy="233.6" r="3.75" fill="none"/><circle cx="345.8" cy="235.8" r="4.4" fill="#f58220" stroke="none"/><circle cx="345.5" cy="235.5" r="3.75" fill="none"/><circle cx="341.5" cy="239.4" r="4.4" fill="#f58220" stroke="none"/><circle cx="341.2" cy="239.1" r="3.75" fill="none"/><circle cx="351.9" cy="241.3" r="4.4" fill="#f58220" stroke="none"/><circle cx="351.6" cy="241.0" r="3.75" fill="none"/><circle cx="360.1" cy="244.3" r="4.4" fill="#f15a29" stroke="none"/><circle cx="359.8" cy="244.0" r="3.75" fill="none"/><circle cx="360.1" cy="239.4" r="4.4" fill="#f15a29" stroke="none"/><circle cx="359.8" cy="239.1" r="3.75" fill="none"/><circle cx="285.9" cy="240.6" r="4.4" fill="#f15a29" stroke="none"/><circle cx="285.6" cy="240.3" r="3.75" fill="none"/><circle cx="293.2" cy="241.3" r="4.4" fill="#f15a29" stroke="none"/><circle cx="292.9" cy="241.0" r="3.75" fill="none"/><circle cx="298.7" cy="241.9" r="4.4" fill="#f58220" stroke="none"/><circle cx="298.4" cy="241.6" r="3.75" fill="none"/><circle cx="346.4" cy="244.3" r="4.4" fill="#ee2b24" stroke="none"/><circle cx="346.1" cy="244.0" r="3.75" fill="none"/><circle cx="317.7" cy="247.0" r="4.4" fill="#f15a29" stroke="none"/><circle cx="317.4" cy="246.7" r="3.75" fill="none"/><circle cx="330.8" cy="248.2" r="4.4" fill="#f58220" stroke="none"/><circle cx="330.5" cy="247.9" r="3.75" fill="none"/><circle cx="286.5" cy="247.4" r="4.4" fill="#ee2b24" stroke="none"/><circle cx="286.2" cy="247.1" r="3.75" fill="none"/><circle cx="290.2" cy="250.4" r="4.4" fill="#ee2b24" stroke="none"/><circle cx="289.9" cy="250.1" r="3.75" fill="none"/><circle cx="300.0" cy="251.0" r="4.4" fill="#f58220" stroke="none"/><circle cx="299.7" cy="250.7" r="3.75" fill="none"/><circle cx="307.9" cy="251.0" r="4.4" fill="#f15a29" stroke="none"/><circle cx="307.6" cy="250.7" r="3.75" fill="none"/><circle cx="335.2" cy="253.8" r="4.4" fill="#ee2b24" stroke="none"/><circle cx="334.9" cy="253.5" r="3.75" fill="none"/><circle cx="342.1" cy="253.1" r="4.4" fill="#ee2b24" stroke="none"/><circle cx="341.8" cy="252.8" r="3.75" fill="none"/><circle cx="295.7" cy="255.3" r="4.4" fill="#f58220" stroke="none"/><circle cx="295.4" cy="255.0" r="3.75" fill="none"/><circle cx="300.6" cy="259.6" r="4.4" fill="#f58220" stroke="none"/><circle cx="300.3" cy="259.3" r="3.75" fill="none"/><circle cx="289.6" cy="260.6" r="4.4" fill="#ee2b24" stroke="none"/><circle cx="289.3" cy="260.3" r="3.75" fill="none"/><circle cx="318.3" cy="258.7" r="4.3" fill="#fdb913" stroke="none"/><circle cx="347.6" cy="260.2" r="4.4" fill="#f58220" stroke="none"/><circle cx="347.3" cy="259.9" r="3.75" fill="none"/><circle cx="335.4" cy="262.6" r="4.4" fill="#f15a29" stroke="none"/><circle cx="335.1" cy="262.3" r="3.75" fill="none"/><circle cx="340.7" cy="264.5" r="4.4" fill="#ee2b24" stroke="none"/><circle cx="340.4" cy="264.2" r="3.75" fill="none"/><circle cx="350.5" cy="265.5" r="4.4" fill="#f58220" stroke="none"/><circle cx="350.2" cy="265.2" r="3.75" fill="none"/><circle cx="309.7" cy="263.6" r="4.4" fill="#f15a29" stroke="none"/><circle cx="309.4" cy="263.3" r="3.75" fill="none"/><circle cx="292.3" cy="267.8" r="4.3" fill="#f58220" stroke="none"/><circle cx="317.8" cy="269.1" r="4.3" fill="#fdb913" stroke="none"/><circle cx="329.9" cy="270.3" r="4.4" fill="#f58220" stroke="none"/><circle cx="329.6" cy="270.0" r="3.75" fill="none"/><circle cx="345.8" cy="271.2" r="4.4" fill="#f58220" stroke="none"/><circle cx="345.5" cy="270.9" r="3.75" fill="none"/><circle cx="306.1" cy="272.4" r="4.4" fill="#f15a29" stroke="none"/><circle cx="305.8" cy="272.1" r="3.75" fill="none"/><circle cx="300.0" cy="274.9" r="4.4" fill="#f58220" stroke="none"/><circle cx="299.7" cy="274.6" r="3.75" fill="none"/><circle cx="287.7" cy="276.1" r="4.4" fill="#f58220" stroke="none"/><circle cx="287.4" cy="275.8" r="3.75" fill="none"/><circle cx="318.3" cy="275.5" r="4.4" fill="#f58220" stroke="none"/><circle cx="318.0" cy="275.2" r="3.75" fill="none"/><circle cx="339.7" cy="275.1" r="4.4" fill="#f58220" stroke="none"/><circle cx="339.4" cy="274.8" r="3.75" fill="none"/><circle cx="312.8" cy="279.2" r="4.4" fill="#f58220" stroke="none"/><circle cx="312.5" cy="278.9" r="3.75" fill="none"/><circle cx="326.0" cy="278.5" r="4.4" fill="#f58220" stroke="none"/><circle cx="325.7" cy="278.2" r="3.75" fill="none"/><circle cx="289.0" cy="281.6" r="4.4" fill="#f15a29" stroke="none"/><circle cx="288.7" cy="281.3" r="3.75" fill="none"/><circle cx="337.9" cy="281.0" r="4.4" fill="#f58220" stroke="none"/><circle cx="337.6" cy="280.7" r="3.75" fill="none"/><circle cx="332.4" cy="283.4" r="4.4" fill="#ee2b24" stroke="none"/><circle cx="332.1" cy="283.1" r="3.75" fill="none"/><circle cx="304.9" cy="284.7" r="4.4" fill="#f58220" stroke="none"/><circle cx="304.6" cy="284.4" r="3.75" fill="none"/><circle cx="300.0" cy="289.4" r="4.4" fill="#f58220" stroke="none"/><circle cx="299.7" cy="289.1" r="3.75" fill="none"/><circle cx="311.7" cy="285.7" r="4.4" fill="#f58220" stroke="none"/><circle cx="311.4" cy="285.4" r="3.75" fill="none"/><circle cx="323.4" cy="288.6" r="4.4" fill="#f15a29" stroke="none"/><circle cx="323.1" cy="288.3" r="3.75" fill="none"/><circle cx="315.7" cy="291.6" r="4.4" fill="#ee2b24" stroke="none"/><circle cx="315.4" cy="291.3" r="3.75" fill="none"/><circle cx="307.7" cy="298.6" r="4.4" fill="#ee2b24" stroke="none"/><circle cx="307.4" cy="298.3" r="3.75" fill="none"/><circle cx="305.1" cy="339.0" r="4.4" fill="#ee2b24" stroke="none"/><circle cx="304.8" cy="338.7" r="3.75" fill="none"/></g>
<rect x="59.6" y="16.45" width="396.09999999999997" height="338.85" fill="none" stroke="#231f20" stroke-width="1.15"/><path d="M107.80 355.3v-4.6M107.80 16.45v4.6" stroke="#231f20" stroke-width="1.2"/><text x="107.80" y="374.2" text-anchor="middle" class="at">80</text><path d="M168.74 355.3v-4.6M168.74 16.45v4.6" stroke="#231f20" stroke-width="1.2"/><text x="168.74" y="374.2" text-anchor="middle" class="at">90</text><path d="M229.68 355.3v-4.6M229.68 16.45v4.6" stroke="#231f20" stroke-width="1.2"/><text x="229.68" y="374.2" text-anchor="middle" class="at">100</text><path d="M290.62 355.3v-4.6M290.62 16.45v4.6" stroke="#231f20" stroke-width="1.2"/><text x="290.62" y="374.2" text-anchor="middle" class="at">110</text><path d="M351.56 355.3v-4.6M351.56 16.45v4.6" stroke="#231f20" stroke-width="1.2"/><text x="351.56" y="374.2" text-anchor="middle" class="at">120</text><path d="M412.50 355.3v-4.6M412.50 16.45v4.6" stroke="#231f20" stroke-width="1.2"/><text x="412.50" y="374.2" text-anchor="middle" class="at">130</text><path d="M59.6 312.20h4.6M455.7 312.20h-4.6" stroke="#231f20" stroke-width="1.2"/><text x="53.3" y="318.80" text-anchor="end" class="at">20</text><path d="M59.6 227.70h4.6M455.7 227.70h-4.6" stroke="#231f20" stroke-width="1.2"/><text x="53.3" y="234.30" text-anchor="end" class="at">30</text><path d="M59.6 143.20h4.6M455.7 143.20h-4.6" stroke="#231f20" stroke-width="1.2"/><text x="53.3" y="149.80" text-anchor="end" class="at">40</text><path d="M59.6 58.70h4.6M455.7 58.70h-4.6" stroke="#231f20" stroke-width="1.2"/><text x="53.3" y="65.30" text-anchor="end" class="at">50</text>
<rect x="460.2" y="16.45" width="15.4" height="34.32" fill="#3A53A4"/><rect x="460.2" y="50.27" width="15.4" height="34.32" fill="#3F5FAC"/><rect x="460.2" y="84.08" width="15.4" height="34.32" fill="#4273B9"/><rect x="460.2" y="117.90" width="15.4" height="34.32" fill="#4A96D1"/><rect x="460.2" y="151.71" width="15.4" height="34.32" fill="#3FC5EE"/><rect x="460.2" y="185.53" width="15.4" height="34.32" fill="#FCEE21"/><rect x="460.2" y="219.34" width="15.4" height="34.32" fill="#FDB913"/><rect x="460.2" y="253.16" width="15.4" height="34.32" fill="#F58220"/><rect x="460.2" y="286.97" width="15.4" height="34.32" fill="#F15A29"/><rect x="460.2" y="320.79" width="15.4" height="33.81" fill="#ED2A24"/><path d="M460.6 354.6V16.45H476M474.5 16.45V354.6M460.6 354.40000000000003H475" fill="none" stroke="#231f20" stroke-width="0.9"/><path d="M460.3 50.27h3.2M474.5 50.27h-3.2" stroke="#231f20" stroke-width="1.1"/><text x="479.6" y="54.87" class="ct">12</text><path d="M460.3 84.08h3.2M474.5 84.08h-3.2" stroke="#231f20" stroke-width="1.1"/><text x="479.6" y="88.68" class="ct">8</text><path d="M460.3 117.90h3.2M474.5 117.90h-3.2" stroke="#231f20" stroke-width="1.1"/><text x="479.6" y="122.50" class="ct">4</text><path d="M460.3 151.71h3.2M474.5 151.71h-3.2" stroke="#231f20" stroke-width="1.1"/><text x="479.6" y="156.31" class="ct">1</text><path d="M460.3 185.53h3.2M474.5 185.53h-3.2" stroke="#231f20" stroke-width="1.1"/><text x="479.6" y="190.12" class="ct">0</text><path d="M460.3 219.34h3.2M474.5 219.34h-3.2" stroke="#231f20" stroke-width="1.1"/><text x="478.7" y="223.94" class="ct">−1</text><path d="M460.3 253.16h3.2M474.5 253.16h-3.2" stroke="#231f20" stroke-width="1.1"/><text x="478.7" y="257.76" class="ct">−4</text><path d="M460.3 286.97h3.2M474.5 286.97h-3.2" stroke="#231f20" stroke-width="1.1"/><text x="478.7" y="291.57" class="ct">−8</text><path d="M460.3 320.79h3.2M474.5 320.79h-3.2" stroke="#231f20" stroke-width="1.1"/><text x="478.7" y="325.39" class="ct">−12</text>
<text x="257.5" y="399.8" text-anchor="middle" class="lb" style="font-size:18.2px">Longitude (°E)</text>
<text transform="translate(6,188) rotate(90)" text-anchor="middle" class="lb" style="font-size:15.6px">Trend in frequency of heat wave episodes</text>
<text transform="translate(520.8,187.3) rotate(90)" text-anchor="middle" class="lb" style="font-size:15.85px">Trend in number of precipitation days</text>
<text transform="translate(502.6,186.5) rotate(90)" text-anchor="middle" class="lb" style="font-size:15.5px">(days per decade)</text>
</svg>
<div class="ln" style="top:423.20px;width:767px;letter-spacing:0.464px"><i>y</i> = 0.0454<i>x</i> − 90.03 (<i>R</i><sup>2</sup> = 0.00, <i>P</i> = 0.93). <b>c</b>, Spatial patterns of the trend</div>
<div class="ln" style="top:452.65px;width:767px;letter-spacing:0.496px">in seasonal temperature (°C per year, shown as bar graphs) from 1960 to</div>
<div class="ln" style="top:482.10px;width:767px;letter-spacing:0.303px">2006. <b>d</b>, Spatial patterns of the trend in seasonal precipitation (percentage</div>
<div class="ln" style="top:511.55px;width:767px;letter-spacing:0.112px">per year, shown as bar graphs) from 1960 to 2006. <b>e</b>, Spatial patterns of the</div>
<div class="ln" style="top:541.00px;width:767px;letter-spacing:0.231px">trend in frequency of <mark style="--l:4px;--r:4.5px">summer heatwave episodes</mark> (days per decade, shown</div>
<div class="ln" style="top:570.45px;width:767px;letter-spacing:0.062px">as colour scale) from 1960 to 2006. Heatwave episodes were defined as hot</div>
<div class="ln" style="top:599.90px;width:704px;letter-spacing:0.450px">summer (June–August) days with <mark style="--l:4px;--r:5.5px">temperatures exceeding the 90th</mark></div>
<div class="ln" style="top:629.35px;width:727px;letter-spacing:0.357px"><mark style="--l:3.6px;--r:3.5px">percentile with respect to the reference period (1960–2006).</mark> <b>f</b>, Spatial</div>
<div class="ln" style="top:658.80px;width:750px;letter-spacing:0.440px">patterns of the trend in rainfall days with precipitation exceeding 0&thinsp;mm</div>
<div class="ln" style="top:688.25px;width:722px;letter-spacing:0.354px">(<mark style="--l:2.5px;--r:0.5px">days per decade,</mark> shown as colour scale) <mark style="--l:4.5px;--r:0px">from 1960 to 2006.</mark> A linear</div>
<div class="ln" style="top:719.00px;width:732px;letter-spacing:0.477px">regression <i>t</i>-test was conducted to determine whether the slope of the</div>

</body></html>
